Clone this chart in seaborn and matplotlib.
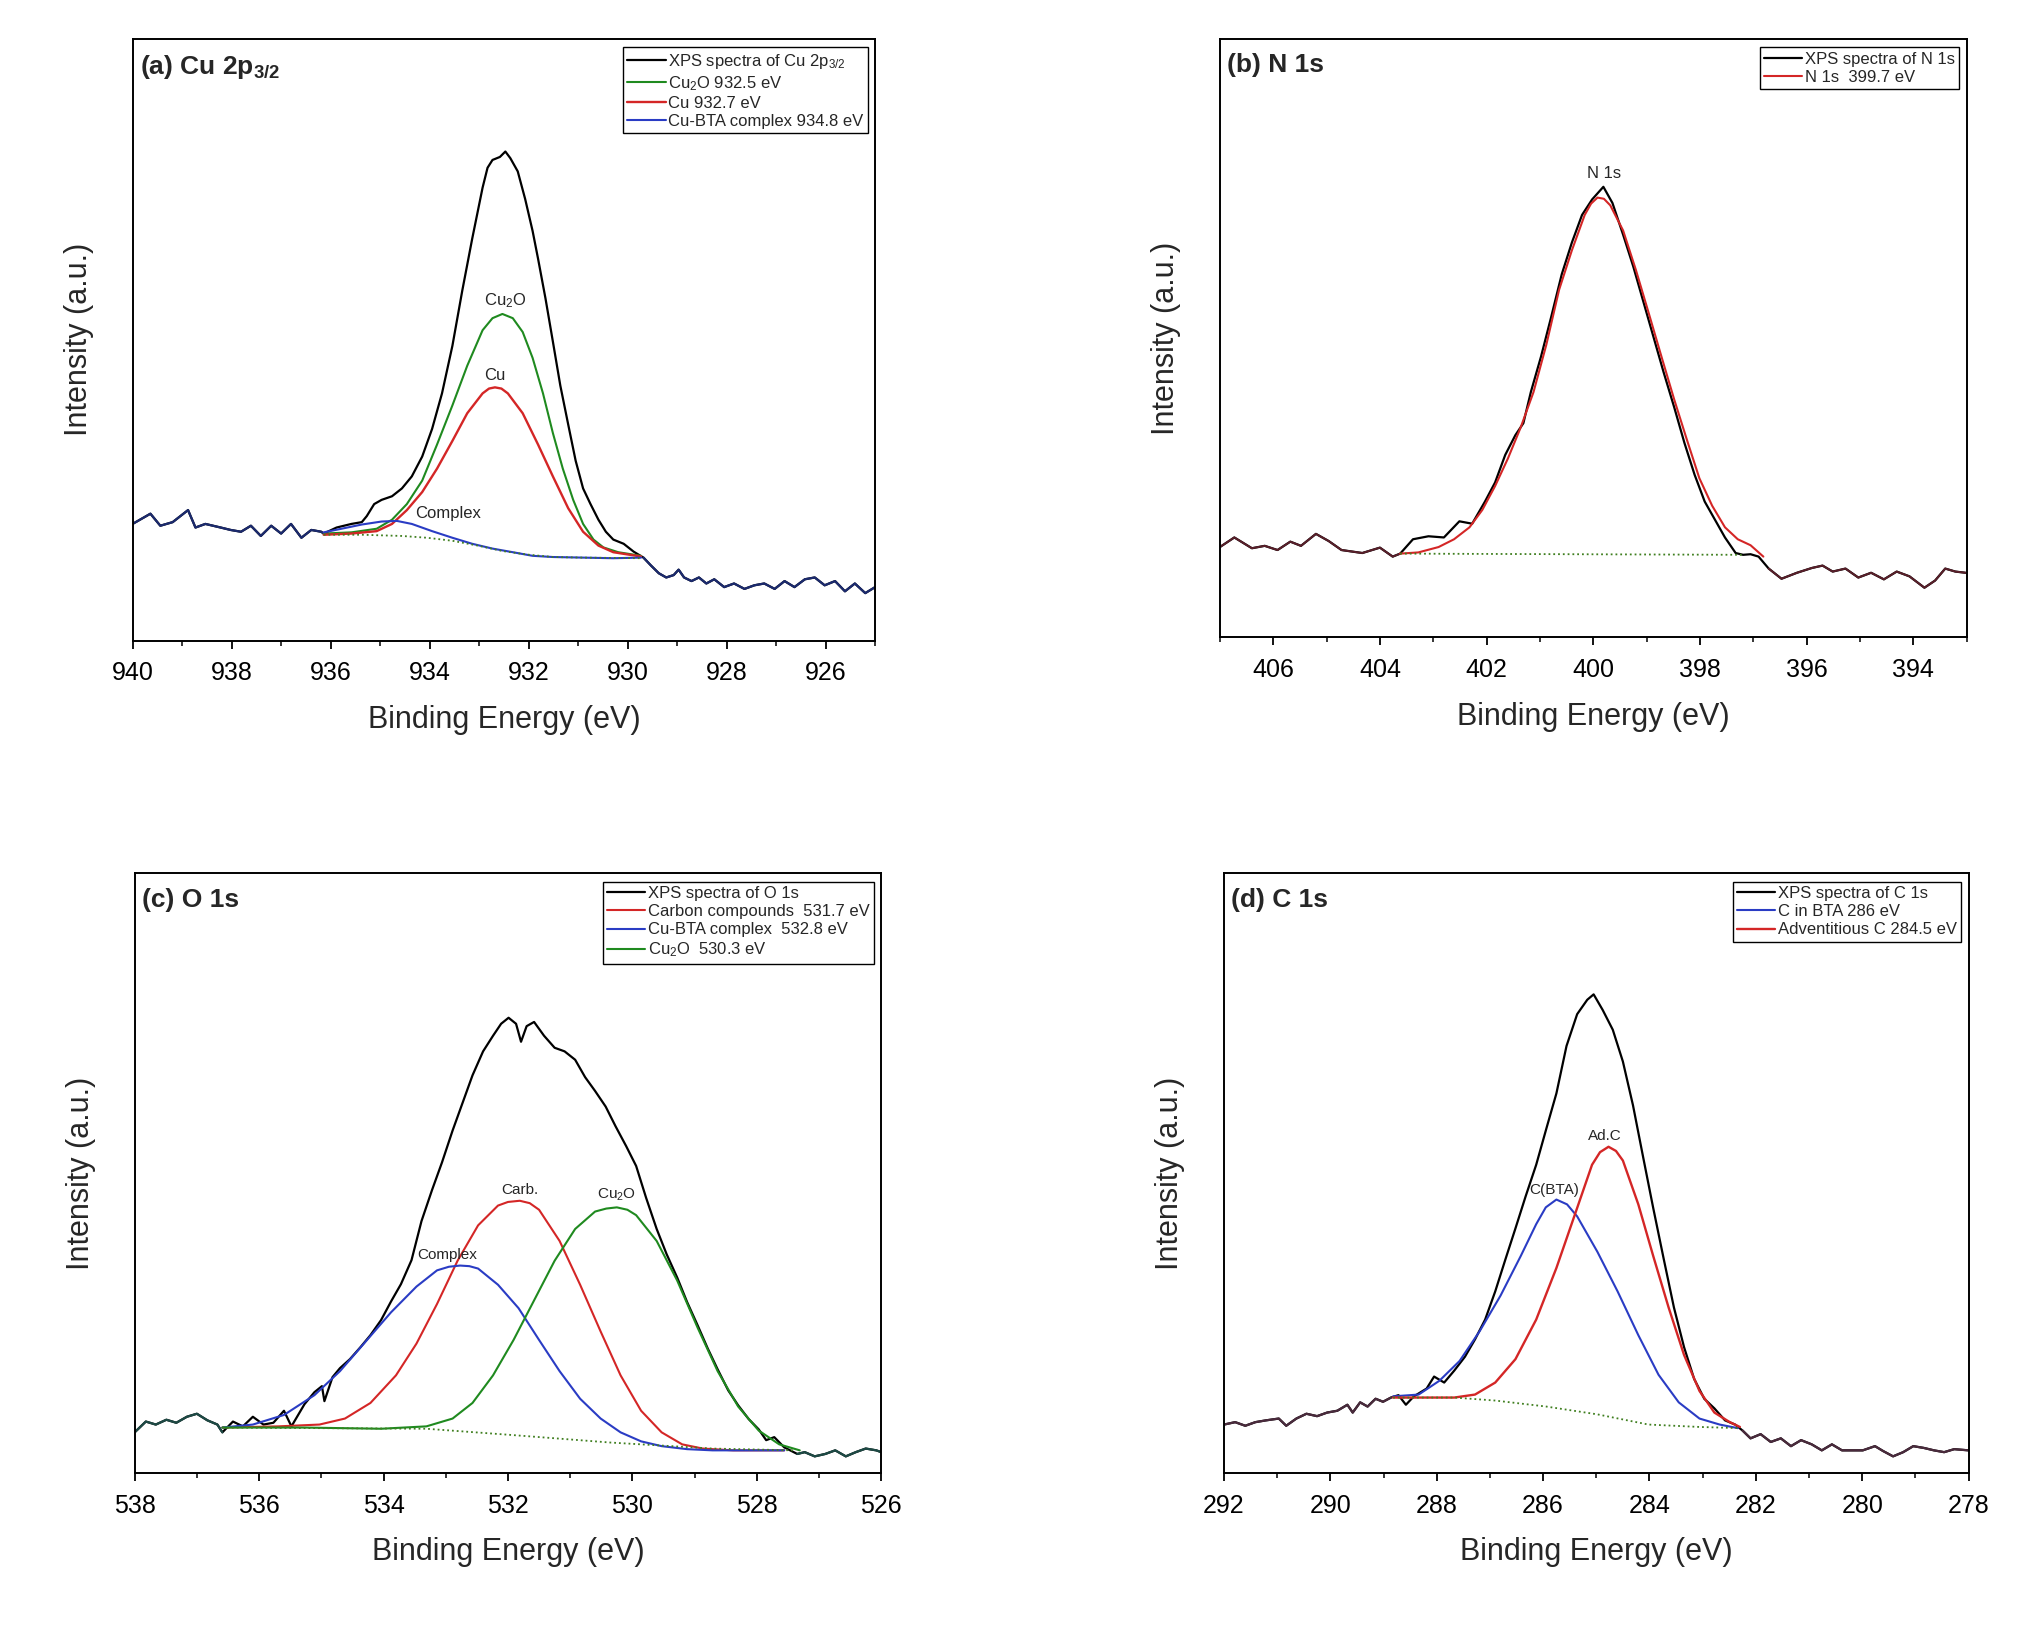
import numpy as np
import pandas as pd
import matplotlib
matplotlib.use("Agg")
import matplotlib.pyplot as plt
from matplotlib.ticker import MultipleLocator
import seaborn as sns

# ---------------- (a) Cu 2p3/2 ----------------
a_raw_x = [940.00, 939.64, 939.44, 939.19, 938.88, 938.73, 938.53, 938.22, 938.02, 937.81, 937.61, 937.41,
           937.20, 937.00, 936.80, 936.59, 936.39, 936.19, 936.14, 935.88, 935.58, 935.37, 935.27, 935.12,
           934.97, 934.76, 934.56, 934.36, 934.15, 933.95, 933.75, 933.54, 933.34, 933.14, 932.93, 932.83,
           932.73, 932.58, 932.47, 932.37, 932.22, 932.07, 931.92, 931.81, 931.66, 931.51, 931.36, 931.20,
           931.05, 930.90, 930.75, 930.59, 930.44, 930.29, 930.08, 929.88, 929.68, 929.53, 929.37, 929.22,
           929.07, 928.97, 928.86, 928.71, 928.56, 928.41, 928.25, 928.05, 927.85, 927.64, 927.44, 927.24,
           927.03, 926.83, 926.63, 926.42, 926.22, 926.02, 925.81, 925.61, 925.41, 925.20, 925.00]
a_raw_y = [19.4, 21.1, 19.1, 19.7, 21.7, 18.8, 19.4, 18.8, 18.4, 18.1, 19.1, 17.4,
           19.1, 17.8, 19.4, 17.1, 18.4, 18.1, 17.8, 18.8, 19.4, 19.7, 20.7, 22.7,
           23.4, 24.0, 25.3, 27.3, 30.6, 35.2, 41.1, 49.0, 58.2, 66.8, 75.3, 78.6,
           79.9, 80.4, 81.3, 80.2, 78.0, 73.4, 68.1, 63.5, 56.9, 49.7, 42.4, 35.9,
           29.9, 25.3, 22.7, 20.1, 18.1, 16.8, 16.1, 14.8, 13.8, 12.5, 11.2, 10.5,
           10.9, 11.8, 10.5, 9.9, 10.5, 9.5, 10.2, 8.9, 9.5, 8.6, 9.2, 9.5,
           8.6, 9.9, 8.9, 10.2, 10.5, 9.2, 9.9, 8.2, 9.5, 7.9, 8.9]
a_fit_range = (936.14, 929.68)

a_cu2o_x = [936.14, 935.58, 935.07, 934.76, 934.46, 934.15, 933.85, 933.54, 933.24, 932.93, 932.73, 932.53,
            932.32, 932.12, 931.92, 931.71, 931.51, 931.31, 931.10, 930.90, 930.69, 930.49, 930.19, 929.73]
a_cu2o_y = [17.8, 18.0, 18.6, 20.1, 22.7, 26.6, 32.6, 39.1, 45.7, 51.6, 53.6, 54.3,
            53.6, 51.3, 47.0, 41.1, 34.5, 28.6, 23.4, 19.4, 16.8, 15.5, 14.7, 14.1]
a_cu_x = [936.14, 935.58, 935.07, 934.76, 934.46, 934.15, 933.85, 933.54, 933.24, 932.93, 932.80, 932.68,
          932.55, 932.42, 932.12, 931.81, 931.51, 931.20, 930.90, 930.59, 930.29, 929.98, 929.73]
a_cu_y = [17.6, 17.8, 18.2, 19.4, 21.7, 24.7, 28.6, 33.2, 37.8, 41.1, 41.9, 42.1,
          41.9, 41.1, 37.8, 32.6, 27.3, 22.0, 18.1, 15.8, 14.7, 14.3, 14.0]
a_bta_x = [936.14, 935.78, 935.37, 934.97, 934.66, 934.36, 933.95, 933.54, 933.14, 932.73, 932.32,
           931.92, 931.51, 930.90, 930.29, 929.73]
a_bta_y = [18.0, 18.6, 19.3, 19.8, 19.9, 19.4, 18.2, 17.1, 16.1, 15.3, 14.7,
           14.1, 13.9, 13.8, 13.7, 13.8]
a_bg_x = [936.14, 935.37, 934.56, 934.05, 933.54, 933.03, 932.53, 932.02, 931.51, 930.90, 929.73]
a_bg_y = [17.6, 17.6, 17.4, 17.1, 16.6, 15.8, 14.9, 14.3, 13.9, 13.8, 13.7]

# ---------------- (b) N 1s ----------------
b_raw_x = [407.00, 406.73, 406.40, 406.16, 405.92, 405.68, 405.48, 405.20, 404.96, 404.72, 404.33, 404.00,
           403.76, 403.62, 403.38, 403.09, 402.80, 402.51, 402.27, 402.03, 401.84, 401.65, 401.46, 401.31,
           401.17, 400.98, 400.79, 400.59, 400.40, 400.21, 400.02, 399.81, 399.64, 399.44, 399.25, 399.06,
           398.87, 398.68, 398.48, 398.29, 398.10, 397.91, 397.72, 397.53, 397.33, 397.19, 397.05, 396.90,
           396.71, 396.47, 396.18, 395.90, 395.70, 395.51, 395.27, 395.03, 394.79, 394.55, 394.31, 394.07,
           393.79, 393.59, 393.40, 393.21, 393.02]
b_raw_y = [15.1, 16.7, 14.9, 15.3, 14.6, 16.0, 15.3, 17.3, 16.1, 14.6, 14.1, 15.0,
           13.5, 14.0, 16.4, 16.9, 16.7, 19.4, 19.0, 22.7, 25.9, 30.5, 33.8, 35.8,
           41.0, 46.9, 53.5, 60.7, 66.0, 70.6, 73.2, 75.3, 72.6, 67.3, 62.0, 56.1,
           50.2, 44.3, 38.4, 32.5, 27.2, 22.7, 19.7, 16.7, 14.1, 13.8, 13.9, 13.5,
           11.5, 9.8, 10.8, 11.6, 12.0, 11.0, 11.5, 10.0, 10.8, 9.7, 11.0, 10.2,
           8.3, 9.5, 11.5, 11.0, 10.8]
b_fit_range = (403.62, 396.81)
b_n1s_x = [403.62, 403.28, 402.90, 402.61, 402.32, 402.08, 401.84, 401.60, 401.36, 401.12, 400.88, 400.64,
           400.40, 400.16, 400.04, 399.92, 399.80, 399.68, 399.44, 399.20, 398.96, 398.72, 398.48, 398.25,
           398.01, 397.77, 397.53, 397.29, 397.05, 396.81]
b_n1s_y = [14.0, 14.2, 15.1, 16.4, 18.4, 21.3, 25.3, 29.9, 35.1, 41.0, 48.9, 58.1,
           64.7, 70.6, 72.5, 73.5, 73.3, 72.2, 68.0, 61.4, 54.2, 46.9, 39.7, 33.2,
           26.6, 22.0, 18.4, 16.4, 15.4, 13.5]
b_bg_x = [403.62, 397.19]
b_bg_y = [14.0, 13.8]

# ---------------- (c) O 1s ----------------
c_raw_x = [538.00, 537.82, 537.66, 537.49, 537.33, 537.16, 537.00, 536.83, 536.67, 536.59, 536.42, 536.26,
           536.10, 535.93, 535.77, 535.60, 535.48, 535.27, 535.11, 534.99, 534.95, 534.82, 534.70, 534.54,
           534.37, 534.21, 534.04, 533.88, 533.72, 533.55, 533.39, 533.22, 533.06, 532.89, 532.73, 532.57,
           532.40, 532.24, 532.11, 531.99, 531.87, 531.79, 531.70, 531.58, 531.42, 531.25, 531.09, 530.92,
           530.76, 530.60, 530.43, 530.27, 530.10, 529.94, 529.78, 529.61, 529.45, 529.28, 529.12, 528.95,
           528.79, 528.63, 528.46, 528.30, 528.13, 527.97, 527.85, 527.72, 527.56, 527.35, 527.23, 527.07,
           526.90, 526.74, 526.57, 526.41, 526.25, 526.08, 526.00]
c_raw_y = [6.8, 8.6, 8.1, 8.9, 8.4, 9.4, 9.9, 8.8, 8.1, 6.8, 8.6, 7.8,
           9.4, 8.1, 8.4, 10.4, 7.8, 11.5, 13.5, 14.5, 12.0, 16.0, 17.5, 19.0,
           21.0, 23.0, 25.5, 28.6, 31.5, 35.5, 42.0, 47.2, 51.8, 57.1, 61.7, 66.3,
           70.3, 72.9, 74.9, 75.9, 74.9, 71.9, 74.5, 75.2, 72.9, 70.9, 70.3, 68.9,
           66.0, 63.7, 61.1, 57.8, 54.5, 51.2, 45.9, 40.7, 36.5, 32.6, 28.5, 24.6,
           20.8, 17.3, 13.8, 11.3, 9.0, 7.3, 5.5, 6.0, 4.3, 3.2, 3.5, 2.8,
           3.2, 3.8, 2.8, 3.5, 4.1, 3.8, 3.5]
c_fit_range = (536.59, 527.35)
c_carb_x = [536.59, 535.69, 535.03, 534.62, 534.21, 533.80, 533.47, 533.14, 532.81, 532.48, 532.16, 532.00,
            531.81, 531.65, 531.50, 531.17, 530.84, 530.51, 530.19, 529.86, 529.53, 529.20, 528.87, 528.38,
            527.56]
c_carb_y = [7.6, 7.8, 8.1, 9.1, 11.7, 16.3, 21.6, 28.2, 35.4, 41.3, 44.6, 45.2,
            45.4, 45.0, 43.9, 38.7, 31.4, 23.6, 16.3, 10.4, 6.8, 4.8, 4.1, 3.8,
            3.8]
c_bta_x = [536.59, 536.10, 535.60, 535.11, 534.70, 534.29, 533.88, 533.47, 533.14, 532.95, 532.77, 532.62,
           532.48, 532.16, 531.83, 531.50, 531.17, 530.84, 530.51, 530.19, 529.86, 529.53, 529.12, 528.71,
           528.22, 527.56]
c_bta_y = [7.6, 8.1, 9.7, 13.0, 17.0, 21.9, 26.8, 31.1, 33.8, 34.4, 34.6, 34.5,
           34.1, 31.4, 27.5, 22.2, 17.0, 12.4, 9.1, 6.8, 5.3, 4.5, 4.0, 3.8,
           3.8, 3.8]
c_cu2o_x = [536.59, 535.27, 534.04, 533.31, 532.89, 532.57, 532.24, 531.91, 531.58, 531.25, 530.92, 530.60,
            530.42, 530.25, 530.08, 529.94, 529.61, 529.28, 528.95, 528.63, 528.30, 527.97, 527.64, 527.31]
c_cu2o_y = [7.6, 7.6, 7.4, 7.8, 9.1, 11.7, 16.3, 22.2, 28.8, 35.4, 40.7, 43.6,
            44.1, 44.3, 43.9, 43.0, 38.7, 32.1, 24.2, 17.0, 11.1, 7.1, 4.8, 3.8]
c_bg_x = [536.59, 533.31, 531.99, 530.35, 528.71, 527.40]
c_bg_y = [7.6, 7.4, 6.4, 5.1, 4.1, 3.8]

# ---------------- (d) C 1s ----------------
d_raw_x = [292.00, 291.79, 291.60, 291.41, 291.21, 290.97, 290.83, 290.64, 290.45, 290.25, 290.06, 289.87,
           289.68, 289.58, 289.44, 289.30, 289.15, 289.01, 288.86, 288.72, 288.58, 288.43, 288.19, 288.05,
           287.86, 287.67, 287.47, 287.28, 287.09, 286.90, 286.71, 286.52, 286.33, 286.13, 285.94, 285.75,
           285.56, 285.36, 285.17, 285.05, 284.88, 284.69, 284.50, 284.31, 284.12, 283.93, 283.73, 283.54,
           283.35, 283.16, 282.97, 282.78, 282.58, 282.39, 282.25, 282.10, 281.91, 281.72, 281.53, 281.34,
           281.15, 280.95, 280.76, 280.57, 280.38, 280.19, 279.99, 279.76, 279.61, 279.42, 279.23, 279.04,
           278.84, 278.65, 278.46, 278.27, 278.00]
d_raw_y = [8.1, 8.5, 7.9, 8.5, 8.8, 9.1, 7.9, 9.1, 9.9, 9.5, 10.1, 10.4,
           11.4, 10.1, 11.8, 11.1, 12.4, 11.9, 12.6, 13.0, 11.4, 12.8, 14.1, 16.1,
           15.1, 17.1, 19.4, 22.3, 25.6, 30.3, 35.6, 40.8, 46.1, 51.4, 57.4, 63.3,
           71.2, 76.5, 78.9, 79.8, 77.2, 73.9, 68.6, 61.3, 52.7, 44.2, 35.6, 27.6,
           21.0, 15.7, 12.4, 10.8, 8.8, 8.1, 7.1, 5.8, 6.5, 5.2, 5.8, 4.5,
           5.5, 4.8, 3.8, 4.8, 3.8, 3.8, 3.8, 4.5, 3.7, 2.8, 3.5, 4.5,
           4.2, 3.8, 3.5, 4.0, 3.8]
d_fit_range = (288.86, 282.30)
d_bta_x = [288.82, 288.34, 287.95, 287.57, 287.19, 286.80, 286.42, 286.13, 285.95, 285.75, 285.55, 285.36,
           284.98, 284.60, 284.21, 283.83, 283.45, 283.06, 282.68, 282.34]
d_bta_y = [12.8, 13.1, 15.4, 18.7, 23.7, 29.6, 36.2, 41.5, 44.3, 45.6, 44.8, 42.8,
           36.9, 30.3, 23.0, 16.4, 11.8, 9.1, 8.1, 7.5]
d_adv_x = [288.82, 287.67, 287.28, 286.90, 286.52, 286.13, 285.75, 285.36, 285.08, 284.93, 284.77, 284.63,
           284.50, 284.21, 283.93, 283.64, 283.35, 283.06, 282.78, 282.49, 282.30]
d_adv_y = [12.6, 12.6, 13.1, 15.1, 19.0, 25.6, 34.2, 44.2, 51.4, 53.5, 54.4, 53.7,
           52.1, 44.8, 36.2, 27.6, 19.7, 13.7, 10.1, 8.5, 7.7]
d_bg_x = [288.82, 287.67, 286.90, 285.94, 284.98, 284.02, 283.06, 282.30]
d_bg_y = [12.6, 12.6, 12.1, 11.1, 9.8, 8.1, 7.7, 7.5]

GREEN = "#1f8a1f"
RED = "#d42626"
BLUE = "#2a3cc4"

sns.set_style("ticks")
plt.rcParams['font.family'] = ['Liberation Sans', 'DejaVu Sans']
plt.rcParams['mathtext.fontset'] = 'custom'
plt.rcParams['mathtext.rm'] = 'Liberation Sans'
plt.rcParams['mathtext.it'] = 'Liberation Sans:italic'
plt.rcParams['mathtext.bf'] = 'Liberation Sans:bold'


def draw(ax, x, y, color, lw=1.5, ls='-'):
    sns.lineplot(x=np.asarray(x), y=np.asarray(y), ax=ax, color=color, linewidth=lw,
                 linestyle=ls, sort=False, estimator=None)
    return ax.lines[-1]


def draw_raw(ax, x, y, fit_range, tail_color):
    x = np.asarray(x)
    y = np.asarray(y)
    hi, lo = fit_range
    h = draw(ax, x, y, 'black', lw=1.6)
    left = x >= hi
    right = x <= lo
    draw(ax, x[left], y[left], tail_color, lw=1.6)
    draw(ax, x[right], y[right], tail_color, lw=1.6)
    return h


def setup(ax, xmax, xmin, title):
    ax.set_xlim(xmax, xmin)
    ax.set_ylim(0, 100)
    ax.set_yticks([])
    ax.xaxis.set_major_locator(MultipleLocator(2))
    ax.xaxis.set_minor_locator(MultipleLocator(1))
    ax.tick_params(axis='x', which='major', direction='out', length=6, width=1.3,
                   labelsize=18, pad=9, colors='black')
    ax.tick_params(axis='x', which='minor', direction='out', length=3.5, width=1.3)
    for s in ax.spines.values():
        s.set_linewidth(1.4)
        s.set_color('black')
        s.set_visible(True)
    ax.set_xlabel('Binding Energy (eV)', fontsize=22, labelpad=14)
    ax.set_ylabel('Intensity (a.u.)', fontsize=22, labelpad=28)
    ax.text(0.01, 0.976, title, transform=ax.transAxes, fontsize=19,
            fontweight='bold', va='top', ha='left')


def legend(ax, handles, labels):
    leg = ax.legend(handles, labels, loc='upper right', bbox_to_anchor=(0.99, 0.986),
                    borderaxespad=0, fontsize=12, frameon=True, fancybox=False,
                    framealpha=1, edgecolor='black', borderpad=0.25, labelspacing=0.2,
                    handlelength=2.3, handletextpad=0.15)
    leg.get_frame().set_linewidth(1.0)


fig = plt.figure(figsize=(20.4, 16.26), dpi=100)
ax_a = fig.add_axes([0.065, 0.606, 0.364, 0.370])
ax_b = fig.add_axes([0.598, 0.608, 0.366, 0.368])
ax_c = fig.add_axes([0.066, 0.094, 0.366, 0.369])
ax_d = fig.add_axes([0.600, 0.094, 0.365, 0.369])

# (a)
h0 = draw_raw(ax_a, a_raw_x, a_raw_y, a_fit_range, '#1b2a6e')
h1 = draw(ax_a, a_cu2o_x, a_cu2o_y, GREEN)
h2 = draw(ax_a, a_cu_x, a_cu_y, RED, lw=1.7)
h3 = draw(ax_a, a_bta_x, a_bta_y, BLUE)
draw(ax_a, a_bg_x, a_bg_y, '#3f7f1f', lw=1.3, ls=':')
setup(ax_a, 940, 925, r'(a) Cu 2p$_\mathbf{3/2}$')
legend(ax_a, [h0, h1, h2, h3],
       [r'XPS spectra of Cu 2p$_\mathregular{3/2}$', r'Cu$_\mathregular{2}$O 932.5 eV',
        'Cu 932.7 eV', 'Cu-BTA complex 934.8 eV'])
ax_a.text(932.47, 55.0, r'Cu$_\mathregular{2}$O', fontsize=12, ha='center', va='bottom')
ax_a.text(932.68, 42.8, 'Cu', fontsize=12, ha='center', va='bottom')
ax_a.text(934.3, 19.9, 'Complex', fontsize=12, ha='left', va='bottom')

# (b)
h0 = draw(ax_b, b_raw_x, b_raw_y, 'black', lw=1.6)
bx = np.asarray(b_raw_x)
by = np.asarray(b_raw_y)
for m in [bx >= b_fit_range[0], bx <= b_fit_range[1]]:
    draw(ax_b, bx[m], by[m], '#5a1f2a', lw=1.4)
h1 = draw(ax_b, b_n1s_x, b_n1s_y, RED, lw=1.5)
draw(ax_b, b_bg_x, b_bg_y, '#3f7f1f', lw=1.3, ls=':')
setup(ax_b, 407, 393, '(b) N 1s')
legend(ax_b, [h0, h1], ['XPS spectra of N 1s', 'N 1s  399.7 eV'])
ax_b.text(399.80, 76.2, 'N 1s', fontsize=12, ha='center', va='bottom')

# (c)
h0 = draw_raw(ax_c, c_raw_x, c_raw_y, c_fit_range, '#1d4a45')
h1 = draw(ax_c, c_carb_x, c_carb_y, RED)
h2 = draw(ax_c, c_bta_x, c_bta_y, BLUE)
h3 = draw(ax_c, c_cu2o_x, c_cu2o_y, GREEN)
draw(ax_c, c_bg_x, c_bg_y, '#3f7f1f', lw=1.3, ls=':')
setup(ax_c, 538, 526, '(c) O 1s')
legend(ax_c, [h0, h1, h2, h3],
       ['XPS spectra of O 1s', 'Carbon compounds  531.7 eV', 'Cu-BTA complex  532.8 eV',
        r'Cu$_\mathregular{2}$O  530.3 eV'])
ax_c.text(532.98, 35.2, 'Complex', fontsize=11, ha='center', va='bottom')
ax_c.text(531.81, 46.0, 'Carb.', fontsize=11, ha='center', va='bottom')
ax_c.text(530.25, 45.0, r'Cu$_\mathregular{2}$O', fontsize=11, ha='center', va='bottom')

# (d)
h0 = draw_raw(ax_d, d_raw_x, d_raw_y, d_fit_range, '#4a2a3c')
h1 = draw(ax_d, d_bta_x, d_bta_y, BLUE)
h2 = draw(ax_d, d_adv_x, d_adv_y, RED, lw=1.7)
draw(ax_d, d_bg_x, d_bg_y, '#3f7f1f', lw=1.3, ls=':')
setup(ax_d, 292, 278, '(d) C 1s')
legend(ax_d, [h0, h1, h2], ['XPS spectra of C 1s', 'C in BTA 286 eV', 'Adventitious C 284.5 eV'])
ax_d.text(285.80, 46.0, 'C(BTA)', fontsize=11, ha='center', va='bottom')
ax_d.text(284.84, 55.0, 'Ad.C', fontsize=11, ha='center', va='bottom')

fig.savefig('out.png', dpi=100, facecolor='white')
